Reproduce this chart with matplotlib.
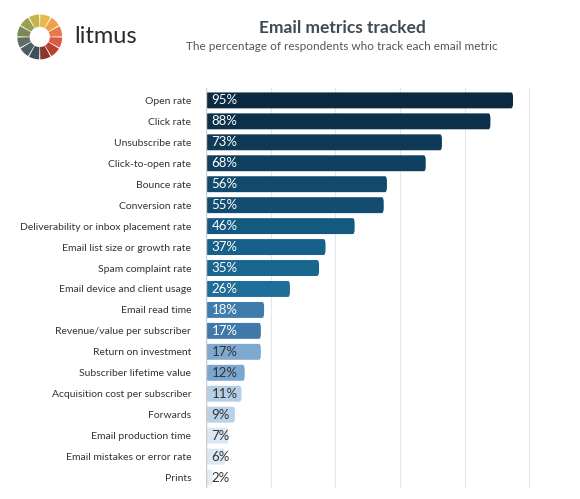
import numpy as np
import matplotlib.pyplot as plt
from matplotlib.patches import Wedge, FancyBboxPatch

metrics = ['Open rate', 'Click rate', 'Unsubscribe rate', 'Click-to-open rate', 'Bounce rate',
           'Conversion rate', 'Deliverability or inbox placement rate', 'Email list size or growth rate',
           'Spam complaint rate', 'Email device and client usage', 'Email read time',
           'Revenue/value per subscriber', 'Return on investment', 'Subscriber lifetime value',
           'Acquisition cost per subscriber', 'Forwards', 'Email production time',
           'Email mistakes or error rate', 'Prints']
values = [95, 88, 73, 68, 56, 55, 46, 37, 35, 26, 18, 17, 17, 12, 11, 9, 7, 6, 2]
colors = ['#0b2a3f', '#0c3049', '#0e3a56', '#10405f', '#114a6c', '#124d71', '#145a80', '#17608a',
          '#19668f', '#1f6d99', '#3d7cad', '#3f79aa', '#7fa9cf', '#7ba7cf', '#b5cfe6', '#b9d2e8',
          '#dbe7f2', '#dce8f3', '#e3edf6']
text_colors = ['white'] * 12 + ['#333333'] * 7

plt.rcParams['font.family'] = ['Lato', 'DejaVu Sans']
fig = plt.figure(figsize=(5.8, 4.99), dpi=100)
ax = fig.add_axes([0.355, 0.022, 0.602, 0.802])
y = np.arange(len(values))
ax.set_ylim(len(values) - 0.5, -0.6)
ax.set_xlim(0, 108)
for i, (v, c) in enumerate(zip(values, colors)):
    ax.add_patch(FancyBboxPatch((0, i - 0.38), v, 0.76, boxstyle='round,pad=0,rounding_size=0.6',
                                fc=c, ec='none', mutation_aspect=0.4))
    ax.text(1.8, i, f'{v}%', color=text_colors[i], va='center', ha='left', fontsize=9.5)
ax.set_yticks(y)
ax.set_yticklabels(metrics, fontsize=7.5, color='#333333')
ax.tick_params(left=False, bottom=False, labelbottom=False, pad=7)
ax.set_xticks([0, 20, 40, 60, 80, 100])
ax.grid(axis='x', color='#e6e6e6', lw=0.8)
ax.set_axisbelow(True)
for s in ax.spines.values():
    s.set_visible(False)
ax.axvline(0, color='#cccccc', lw=1)

fig.text(0.59, 0.934, 'Email metrics tracked', ha='center', fontsize=12.5, fontweight='bold', color='#404a52')
fig.text(0.59, 0.9, 'The percentage of respondents who track each email metric', ha='center',
         fontsize=8.5, color='#555555')

# logo
lax = fig.add_axes([0.029, 0.88, 0.079, 0.092])
logo_cols = ['#e8b84a', '#f0a24a', '#e8794a', '#dc5a45', '#b8412f', '#8e3530',
             '#3f4f57', '#4a5e64', '#5f6f60', '#7b8a55', '#9aa050', '#c5b44e']
for k, c in enumerate(logo_cols):
    a0 = 90 - (k + 1) * 30 + 1.5
    lax.add_patch(Wedge((0, 0), 1, a0, a0 + 27, width=0.55, fc=c, ec='none'))
lax.set_xlim(-1.02, 1.02)
lax.set_ylim(-1.02, 1.02)
lax.set_aspect('equal')
lax.axis('off')
fig.text(0.128, 0.926, 'litmus', fontsize=17, color='#2a2a2a', va='center')

fig.savefig('out.png', dpi=100)
